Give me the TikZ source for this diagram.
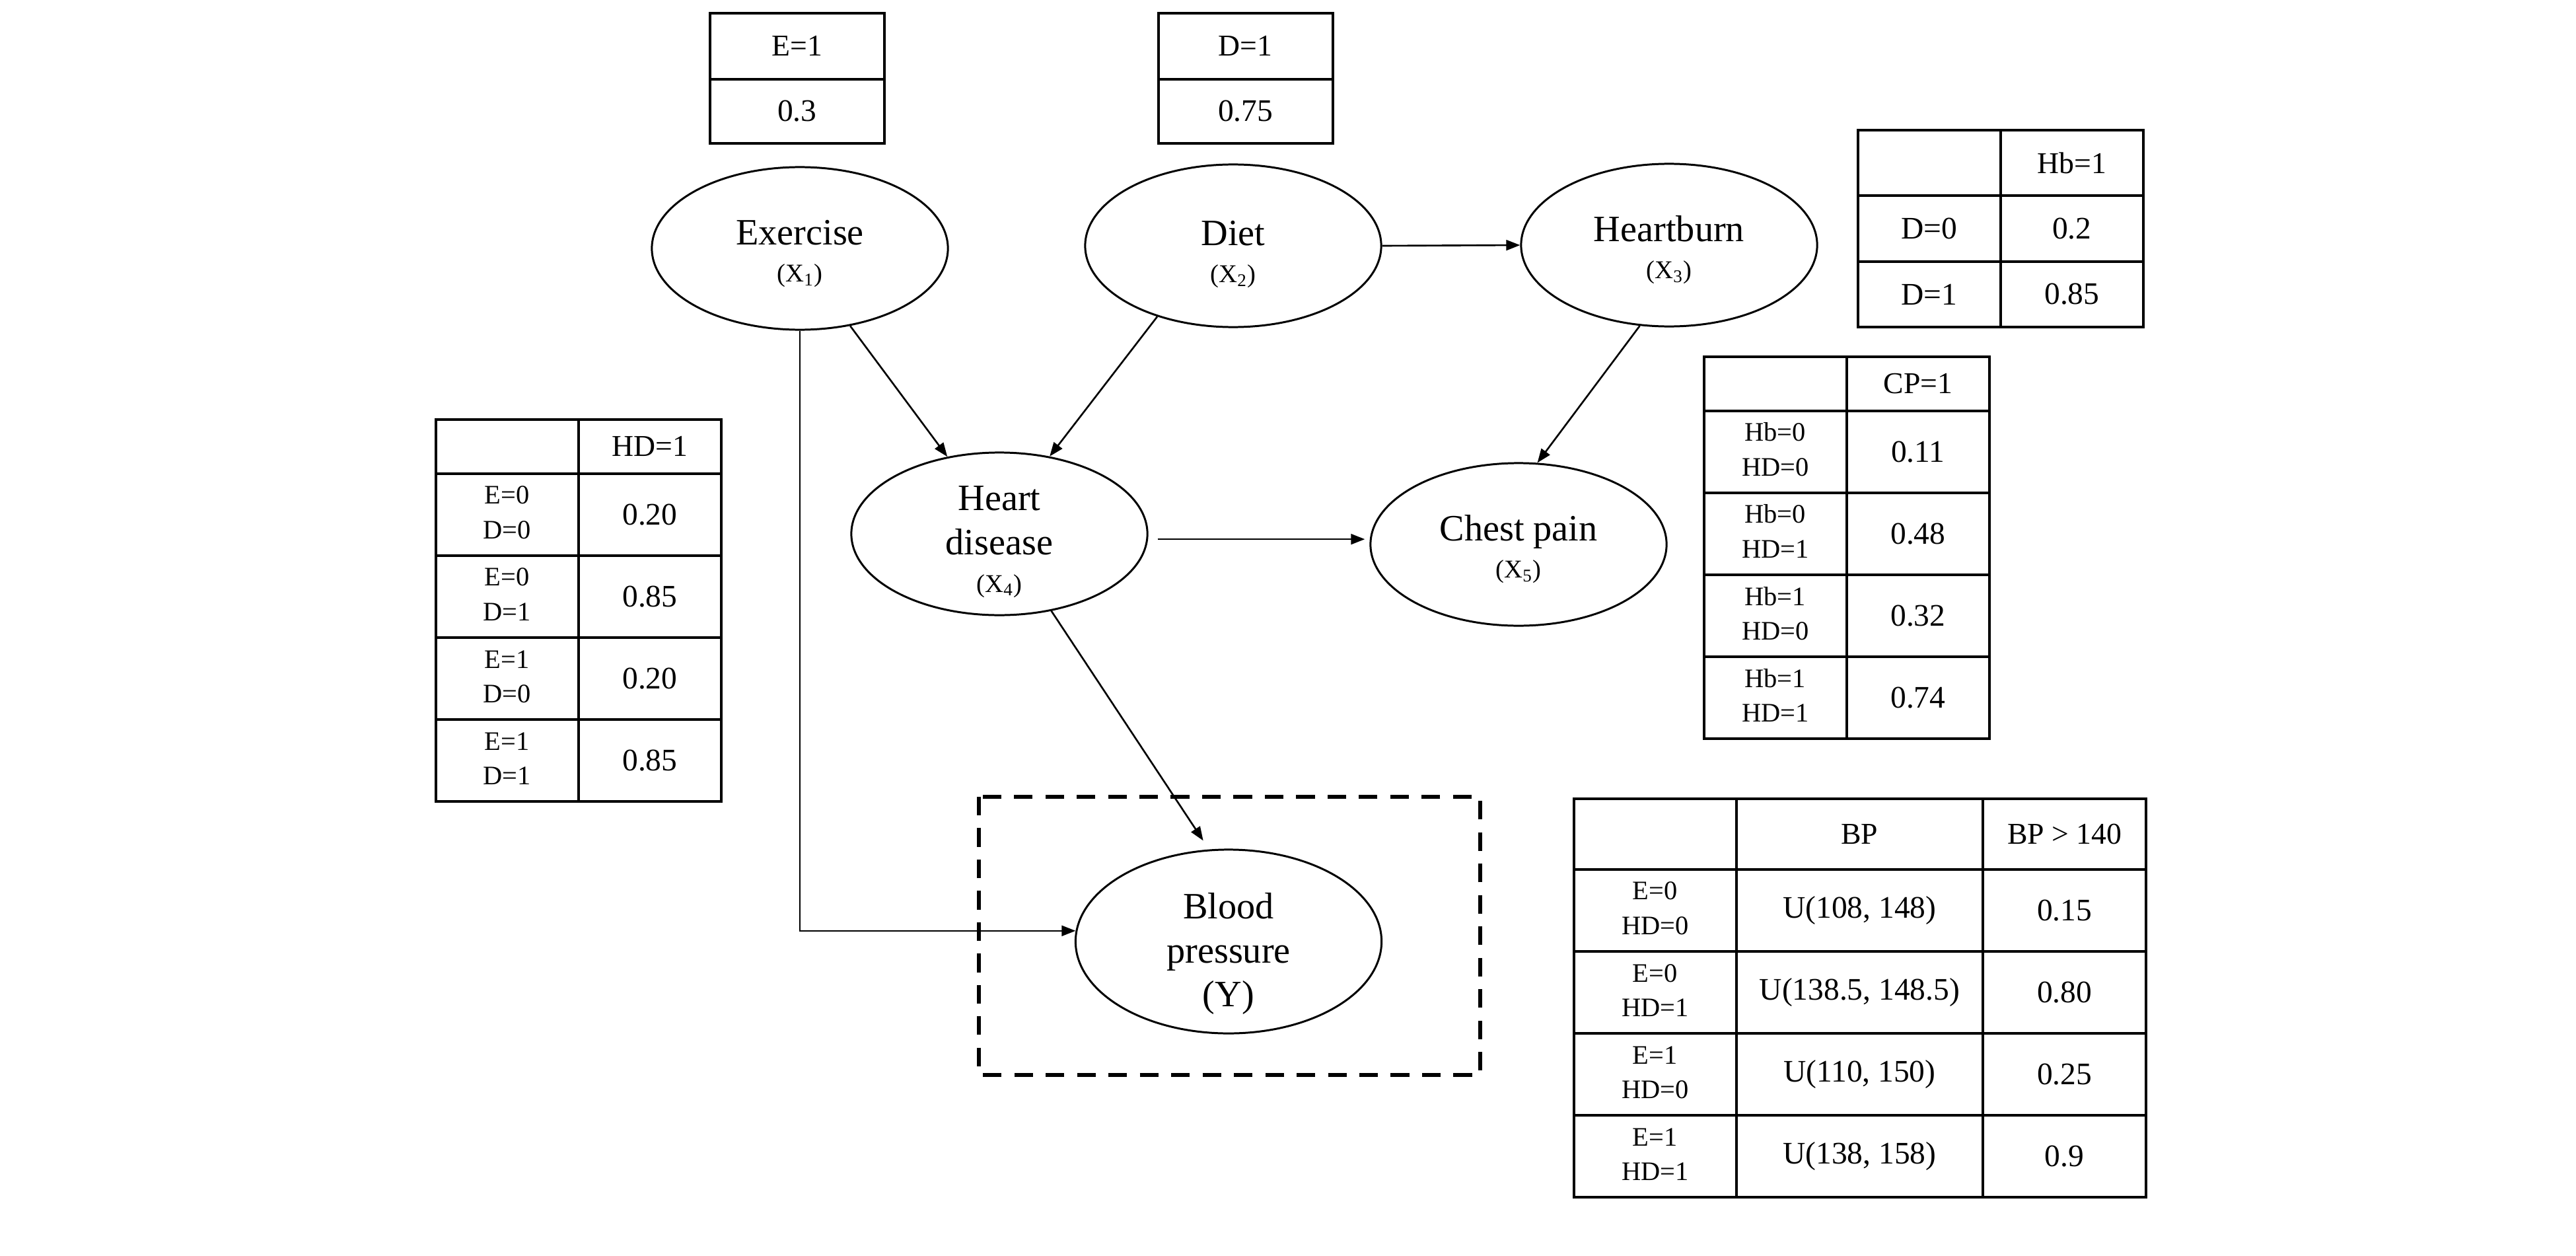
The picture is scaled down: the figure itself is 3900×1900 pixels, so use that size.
\documentclass[tikz,border=0pt]{standalone}
\usepackage{fontspec}
\setmainfont{Liberation Serif}
\usetikzlibrary{matrix,shapes.geometric,arrows.meta}
\newcommand{\varidx}[1]{{\fontsize{11}{13}\selectfont(X\textsubscript{#1})}}
\newcommand{\condpair}[2]{{\fontsize{11.5}{15}\selectfont
    \begin{tabular}{@{}c@{}}#1\\#2\end{tabular}}}

\begin{document}
\begin{tikzpicture}[x=0.01cm, y=-0.01cm,
    var/.style={ellipse, draw, line width=0.85pt, minimum width=4.48cm,
        minimum height=2.46cm, inner sep=0pt, align=center, text height=31pt,
        font=\fontsize{16}{19}\selectfont},
    cpt/.style={matrix of nodes, nodes in empty cells, inner sep=0pt,
        column sep=-1.1pt, row sep=-1.1pt,
        nodes={draw, line width=1.1pt, anchor=center, inner sep=0pt,
            minimum height=1.24cm, minimum width=2.16cm,
            font=\fontsize{13.5}{16}\selectfont}},
    hdr/.style={nodes={minimum height=0.82cm, font=\fontsize{13}{15}\selectfont}},
    arr/.style={-{Triangle[length=6pt,width=4.5pt]}, line width=0.75pt}]

    \useasboundingbox (0,0) rectangle (3900,1900);

    % variables
    \node[var] (ex)   at (1211,376) {Exercise\\[-3pt]\varidx{1}};
    \node[var, text height=33.8pt] (diet) at (1867,372) {Diet\\[-3pt]\varidx{2}};
    \node[var] (hb)   at (2527,371) {Heartburn\\[-3pt]\varidx{3}};
    \node[var, text height=52.4pt, inner ysep=-3pt] (hd) at (1513,808)
        {Heart\\disease\\[-3pt]\varidx{4}};
    \node[var] (cp)   at (2299,824) {Chest pain\\[-3pt]\varidx{5}};
    \node[var, minimum width=4.63cm, minimum height=2.78cm, text height=59.7pt,
        inner ysep=-4pt] (bp) at (1860,1425) {Blood\\pressure\\(Y)};

    \draw[line width=1.8pt, dash pattern=on 8pt off 5.5pt]
        (1482,1206) rectangle (2241,1627);

    % edges
    \draw[arr] (ex.-57) -- (hd.124);
    \draw[arr] (diet.-137) -- (hd.57);
    \draw[arr] (diet.east) -- (hb.west);
    \draw[arr] (hb.-110) -- (cp.77);
    \coordinate (hdout) at ([yshift=-2.3pt]hd.east);
    \draw[arr, shorten <=4pt, shorten >=2pt] (hdout) -- (hdout -| cp.west);
    \draw[arr, shorten >=4.5pt] (hd.-56) -- (bp.102);
    \draw[arr] (ex.south) |- (bp.176);

    % probability tables
    \matrix (etab) [cpt, anchor=north west, nodes={minimum width=2.64cm},
        row 1/.style={hdr, nodes={minimum height=1cm}},
        row 2/.style={nodes={minimum height=0.97cm}}] at (1072,17)
    {
        E=1 \\
        0.3 \\
    };
    \matrix (dtab) [cpt, anchor=north west, nodes={minimum width=2.64cm},
        row 1/.style={hdr, nodes={minimum height=1cm}},
        row 2/.style={nodes={minimum height=0.97cm}}] at (1751,17)
    {
        D=1 \\
        0.75 \\
    };
    \matrix (hbtab) [cpt, anchor=north west, nodes={minimum height=0.995cm},
        row 1/.style={hdr, nodes={minimum height=0.995cm}}] at (2810,194)
    {
              & Hb=1 \\
        D=0   & 0.2  \\
        D=1   & 0.85 \\
    };
    \matrix (hdtab) [cpt, anchor=north west, row 1/.style={hdr}] at (657,632)
    {
                            & HD=1 \\
        \condpair{E=0}{D=0} & 0.20 \\
        \condpair{E=0}{D=1} & 0.85 \\
        \condpair{E=1}{D=0} & 0.20 \\
        \condpair{E=1}{D=1} & 0.85 \\
    };
    \matrix (cptab) [cpt, anchor=north west, row 1/.style={hdr}] at (2577,537)
    {
                              & CP=1 \\
        \condpair{Hb=0}{HD=0} & 0.11 \\
        \condpair{Hb=0}{HD=1} & 0.48 \\
        \condpair{Hb=1}{HD=0} & 0.32 \\
        \condpair{Hb=1}{HD=1} & 0.74 \\
    };
    \matrix (bptab) [cpt, anchor=north west,
        column 1/.style={nodes={minimum width=2.46cm}},
        column 2/.style={nodes={minimum width=3.73cm}},
        column 3/.style={nodes={minimum width=2.47cm}},
        row 1/.style={hdr, nodes={minimum height=1.07cm}}] at (2380,1206)
    {
                              & BP                & BP > 140 \\
        \condpair{E=0}{HD=0}  & U(108, 148)       & 0.15 \\
        \condpair{E=0}{HD=1}  & U(138.5, 148.5)   & 0.80 \\
        \condpair{E=1}{HD=0}  & U(110, 150)       & 0.25 \\
        \condpair{E=1}{HD=1}  & U(138, 158)       & 0.9  \\
    };

\end{tikzpicture}
\end{document}
